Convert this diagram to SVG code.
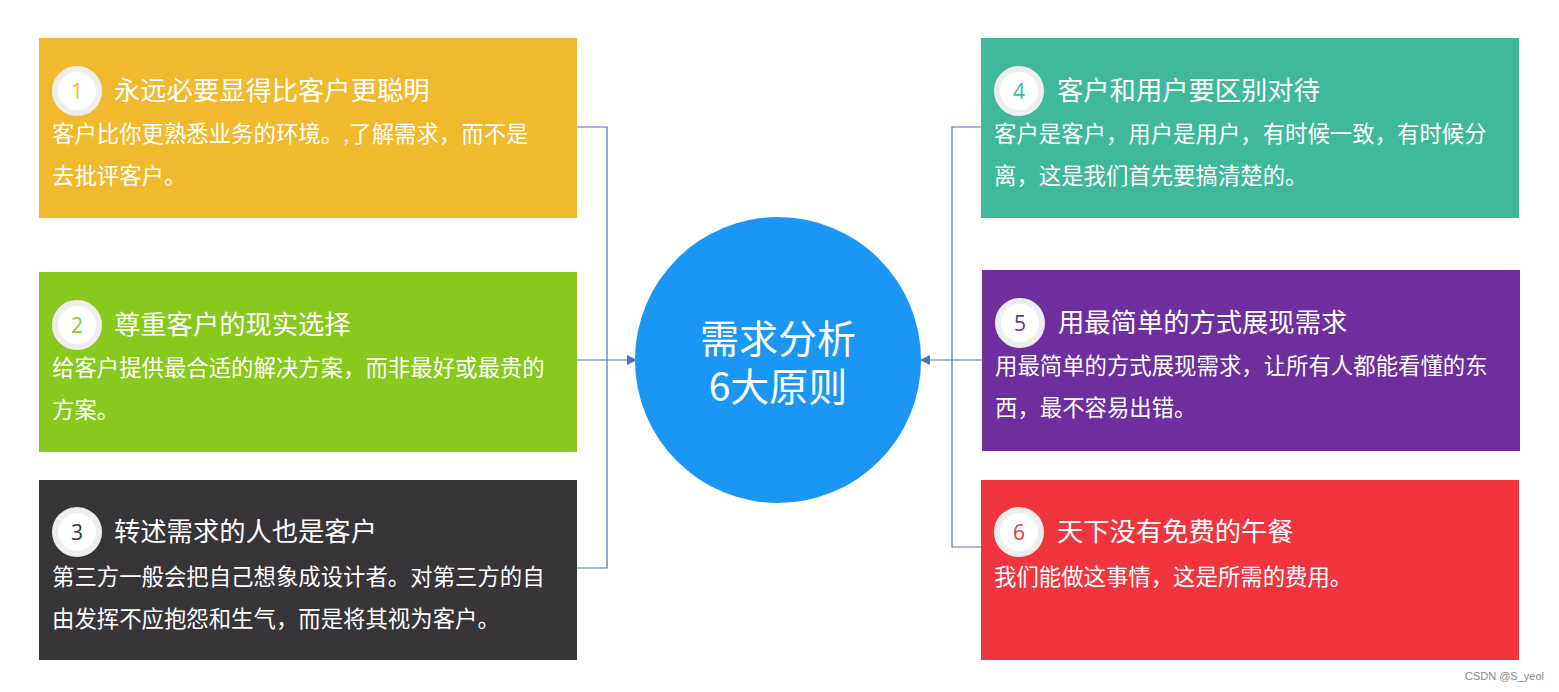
<svg xmlns="http://www.w3.org/2000/svg" width="1559" height="692" viewBox="0 0 1559 692">
<defs>
<style>
text{font-family:"Noto Sans CJK SC","Noto Sans",sans-serif;fill:#fff}
.t{font-size:26.3px}
.b{font-size:22.4px}
.n{font-size:21px;text-anchor:middle;font-family:"Open Sans","Noto Sans",sans-serif}
.ring{fill:#fff;stroke:#eeeeee;stroke-width:6}
.c{fill:none;stroke:#4472C4;stroke-width:1.2}
</style>
<marker id="a" markerWidth="10" markerHeight="10" refX="9" refY="5" orient="auto" markerUnits="userSpaceOnUse"><path d="M0,0 L10,5 L0,10 z" fill="#4472C4"/></marker>
</defs>
<rect width="1559" height="692" fill="#fff"/>
<g id="connectors">
<path class="c" d="M577,127 H607 V568 H577"/>
<path class="c" d="M577,360 H636" marker-end="url(#a)"/>
<path class="c" d="M981,127 H952 V547 H981"/>
<path class="c" d="M982,360 H921" marker-end="url(#a)"/>
</g>
<g id="node1"><rect x="39" y="38" width="538" height="180" fill="#F0B92E"/>
<circle class="ring" cx="77" cy="91" r="22"/><text class="n" x="77" y="99" style="fill:#F0B92E">1</text>
<text class="t" x="114" y="100">永远必要显得比客户更聪明</text>
<text class="b" x="52" y="142">客户比你更熟悉业务的环境。,了解需求，而不是</text>
<text class="b" x="52" y="184">去批评客户。</text></g>
<g id="node2"><rect x="39" y="272" width="538" height="180" fill="#88C91E"/>
<circle class="ring" cx="77" cy="325" r="22"/><text class="n" x="77" y="333" style="fill:#88C91E">2</text>
<text class="t" x="114" y="334">尊重客户的现实选择</text>
<text class="b" x="52" y="376">给客户提供最合适的解决方案，而非最好或最贵的</text>
<text class="b" x="52" y="418">方案。</text></g>
<g id="node3"><rect x="39" y="480" width="538" height="180" fill="#373538"/>
<circle class="ring" cx="77" cy="532" r="22"/><text class="n" x="77" y="540" style="fill:#373538">3</text>
<text class="t" x="114" y="541">转述需求的人也是客户</text>
<text class="b" x="52" y="585">第三方一般会把自己想象成设计者。对第三方的自</text>
<text class="b" x="52" y="627">由发挥不应抱怨和生气，而是将其视为客户。</text></g>
<g id="node4"><rect x="981" y="38" width="538" height="180" fill="#40B99A"/>
<circle class="ring" cx="1019" cy="91" r="22"/><text class="n" x="1019" y="99" style="fill:#40B99A">4</text>
<text class="t" x="1057" y="100">客户和用户要区别对待</text>
<text class="b" x="994" y="142">客户是客户，用户是用户，有时候一致，有时候分</text>
<text class="b" x="994" y="184">离，这是我们首先要搞清楚的。</text></g>
<g id="node5"><rect x="982" y="270" width="538" height="181" fill="#6E2E9E"/>
<circle class="ring" cx="1020" cy="323" r="22"/><text class="n" x="1020" y="331" style="fill:#6E2E9E">5</text>
<text class="t" x="1058" y="332">用最简单的方式展现需求</text>
<text class="b" x="995" y="374">用最简单的方式展现需求，让所有人都能看懂的东</text>
<text class="b" x="995" y="416">西，最不容易出错。</text></g>
<g id="node6"><rect x="981" y="480" width="538" height="180" fill="#F0353F"/>
<circle class="ring" cx="1019" cy="532" r="22"/><text class="n" x="1019" y="540" style="fill:#F0353F">6</text>
<text class="t" x="1057" y="541">天下没有免费的午餐</text>
<text class="b" x="994" y="585">我们能做这事情，这是所需的费用。</text></g>
<g id="center"><circle cx="778" cy="360" r="143" fill="#1A97F5"/>
<text x="778" y="353" font-size="39" text-anchor="middle">需求分析</text>
<text x="778" y="401" font-size="39" text-anchor="middle">6大原则</text></g>
<text x="1544" y="680" font-size="11" text-anchor="end" style="fill:#888;font-family:'Liberation Sans',sans-serif">CSDN @S_yeol</text>
</svg>
